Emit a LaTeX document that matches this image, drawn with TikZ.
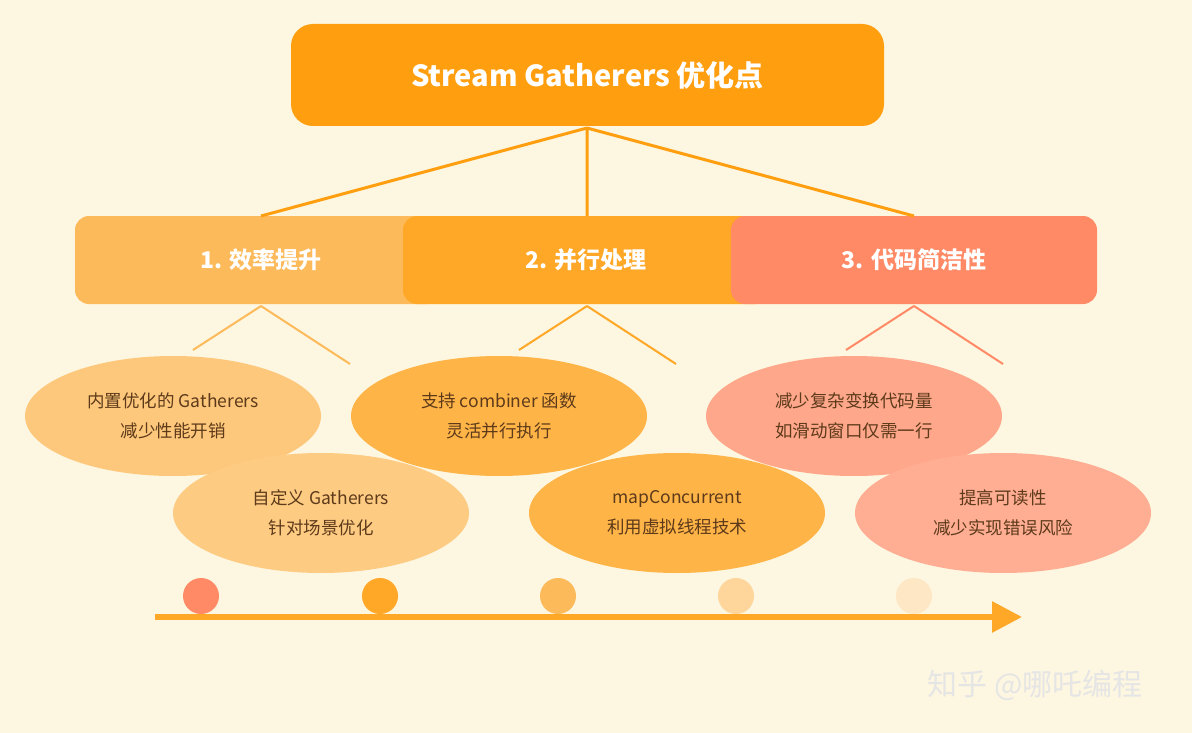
\documentclass[tikz,border=0pt]{standalone}
\usepackage{fontspec}
\setmainfont{Noto Sans CJK SC}
\usetikzlibrary{arrows.meta,shapes.geometric}
\definecolor{bg}{HTML}{FDF6E0}
\definecolor{top}{HTML}{FF9F10}
\definecolor{ca}{HTML}{FDBA5A}
\definecolor{cb}{HTML}{FFA726}
\definecolor{cc}{HTML}{FF8A65}
\definecolor{txt}{HTML}{5D3A1A}
\tikzset{
 lvl/.style={rounded corners=14pt,minimum width=366pt,minimum height=88pt,text=white,font=\bfseries\fontsize{23}{26}\selectfont},
 ell/.style={ellipse,minimum width=296pt,minimum height=120pt,text=txt,align=center,font=\fontsize{17.5}{30}\selectfont},
 dot/.style={circle,minimum size=36pt,inner sep=0pt},
}
\begin{document}
\begin{tikzpicture}[x=1pt,y=-1pt]
\fill[bg] (0,0) rectangle (1192,733);
\useasboundingbox (0,0) rectangle (1192,733);
\node[fill=top,rounded corners=22pt,minimum width=593pt,minimum height=102pt,text=white,font=\bfseries\fontsize{29}{32}\selectfont] (T) at (587.5,75) {Stream Gatherers 优化点};
\node[lvl,fill=ca] (A) at (258,260) {\hspace*{6pt}1. 效率提升};
\node[lvl,fill=cb] (B) at (586,260) {2. 并行处理};
\node[lvl,fill=cc] (C) at (914,260) {3. 代码简洁性};
\coordinate (tbot) at (587,128);
\coordinate (ta) at (261,216);
\coordinate (tm) at (587,216);
\coordinate (tc) at (914,216);
\draw[top,line width=3pt] (tbot) -- (ta) (tbot) -- (tm) (tbot) -- (tc);
\foreach \x/\c in {261/ca,587/cb,914/cc}{
 \draw[\c,line width=2pt] (\x,306) -- ++(-68,44) (\x,306) -- ++(89,58);
}
\node[ell,fill=ca!80!white] (E1) at (173,416) {内置优化的 Gatherers\\减少性能开销};
\node[ell,fill=ca!75!white] (E2) at (321,513) {自定义 Gatherers\\针对场景优化};
\node[ell,fill=cb!85!white] (E3) at (499,416) {支持 combiner 函数\\灵活并行执行};
\node[ell,fill=cb!85!white] (E4) at (677,513) {mapConcurrent\\利用虚拟线程技术};
\node[ell,fill=cc!75!white] (E5) at (854,416) {减少复杂变换代码量\\如滑动窗口仅需一行};
\node[ell,fill=cc!70!white] (E6) at (1003,513) {提高可读性\\减少实现错误风险};
\node[dot,fill=cc] (D1) at (201,596) {};
\node[dot,fill=cb] (D2) at (380,596) {};
\node[dot,fill=ca] (D3) at (558,596) {};
\node[dot,fill=ca!60!white] (D4) at (736,596) {};
\node[dot,fill=ca!35!white] (D5) at (914,596) {};
\coordinate (s) at (155,617); \coordinate (e) at (1022,617);
\draw[cb,line width=6pt,-{Triangle[length=30pt,width=30pt]}] (s) -- (e);
\node[text=white!80!gray,font=\fontsize{30}{34}\selectfont] (W) at (1035,685) {知乎 @哪吒编程};
\end{tikzpicture}
\end{document}
